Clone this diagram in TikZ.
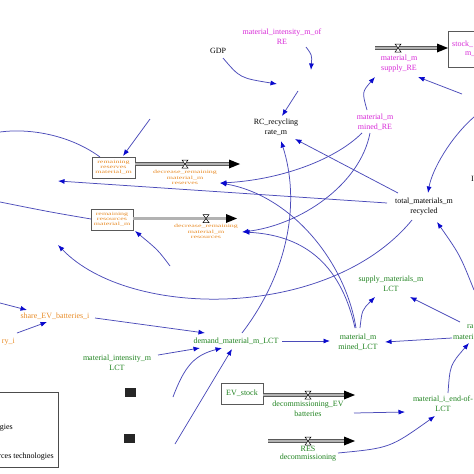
\documentclass[tikz,border=0pt]{standalone}
\usepackage{fontspec}
\setmainfont{Liberation Serif}
\usetikzlibrary{arrows.meta}
\definecolor{linkc}{RGB}{75,75,185}
\definecolor{arrc}{RGB}{10,10,205}
\definecolor{orng}{RGB}{232,140,40}
\definecolor{mgnt}{RGB}{215,40,215}
\definecolor{grn}{RGB}{30,130,30}
\newcommand{\sqt}[1]{\scalebox{1}[0.6]{\fontsize{8}{8.5}\selectfont\begin{tabular}{@{}c@{}}#1\end{tabular}}}
\begin{document}
\begin{tikzpicture}[x=1pt,y=-1pt, font=\fontsize{8}{10}\selectfont,
 lbl/.style={inner sep=0pt, align=center},
 lnk/.style={draw=linkc, line width=0.75pt, -{Latex[length=6.5pt,width=5pt,color=arrc]}},
 plainlnk/.style={draw=linkc, line width=0.75pt},
 stockbox/.style={draw=black!65, line width=0.8pt, fill=white, inner sep=0pt},
 pipe/.style={draw=black!65, double=black!30, double distance=2.8pt, line width=0.55pt},
 vlv/.pic={\draw[fill=white, line width=0.5pt] (-3,-4) -- (3,-4) -- (-3,4) -- (3,4) -- cycle;},
]
\useasboundingbox (0,0) rectangle (474,474);
\clip (0,0) rectangle (474,474);

% ---------------- nodes ----------------
\node[lbl] (gdp) at (218,51) {GDP};
\node[lbl, text=mgnt] (miRE) at (282,37) {material\_intensity\_m\_of\\RE};
\coordinate (hub) at (289,84);
\node[lbl] (rc) at (276,127) {RC\_recycling\\rate\_m};
\node[lbl, text=mgnt] (supRE) at (399,64) {material\_m\\supply\_RE};
\node[lbl, text=mgnt] (minRE) at (375,122) {material\_m\\mined\_RE};
\node[stockbox, anchor=north west, minimum width=45pt, minimum height=36pt] (stockRE) at (448,31) {};
\node[lbl, text=mgnt, anchor=west] (stockta) at (452,44) {stock\_};
\node[lbl, text=mgnt, anchor=west] (stocktb) at (465,54) {m\_};
\node[lbl] (totrec) at (424,207) {total\_materials\_m\\recycled};
\node[lbl, anchor=west] (edgeI) at (471,179) {I};

\node[stockbox, minimum width=43pt, minimum height=21pt] (resv) at (113.5,167.5) {\textcolor{orng}{\sqt{remaining\\reserves\\material\_m}}};
\node[stockbox, minimum width=42pt, minimum height=21pt] (reso) at (112,219.5) {\textcolor{orng}{\sqt{remaining\\resources\\material\_m}}};
\node[lbl, text=orng] (decresv) at (185,178) {\sqt{decrease\_remaining\\material\_m\\reserves}};
\node[lbl, text=orng] (decreso) at (206,232) {\sqt{decrease\_remaining\\material\_m\\resources}};

\node[lbl, text=orng] (shareEV) at (55,316) {share\_EV\_batteries\_i};
\node[lbl, text=orng, anchor=east] (ryi) at (15,342) {ry\_i};
\node[lbl, text=grn] (demand) at (236,341) {demand\_material\_m\_LCT};
\node[lbl, text=grn] (miLCT) at (117,363) {material\_intensity\_m\\LCT};
\node[lbl, text=grn] (minLCT) at (358,342) {material\_m\\mined\_LCT};
\node[lbl, text=grn] (supLCT) at (391,284) {supply\_materials\_m\\LCT};
\node[lbl, text=grn] (endLCT) at (443,404) {material\_i\_end-of-\\LCT};
\node[lbl, text=grn, anchor=west] (rta) at (467,327) {ra};
\node[lbl, text=grn, anchor=west] (rtb) at (453,337) {materi};

\node[stockbox, minimum width=42pt, minimum height=21pt, text=grn] (evstock) at (242,393.5) {EV\_stock};
\node[lbl, text=grn] (decEV) at (308,409) {decommissioning\_EV\\batteries};
\node[lbl, text=grn, font=\fontsize{8}{7.5}\selectfont] (resdec) at (308,453.5) {RES\\decommissioning};

\fill[black!85] (125,388) rectangle (136,397);
\fill[black!85] (124,434) rectangle (135,443);

\node[draw=black!70, line width=0.8pt, anchor=north west, minimum width=63pt, minimum height=75pt, inner sep=0pt] (legend) at (-5,392) {};
\node[lbl, anchor=east] (lega) at (13,428) {gies};
\node[lbl, anchor=east] (legb) at (54,457) {rces technologies};

% ---------------- flows (pipes) ----------------
\draw[pipe] (resv.east |- 0,164) -- (230,164);
\fill (229,159.5) -- (240,164) -- (229,168.5) -- cycle;
\pic at (185,164) {vlv};
\draw[pipe] (reso.east |- 0,218.5) -- (227,218.5);
\fill (226,214) -- (237,218.5) -- (226,223) -- cycle;
\pic at (206,218.5) {vlv};
\draw[pipe] (375,48) -- (438,48);
\fill (437,43.5) -- (448,48) -- (437,52.5) -- cycle;
\pic at (398,48) {vlv};
\draw[pipe] (evstock.east |- 0,395) -- (345,395);
\fill (344,390.5) -- (355,395) -- (344,399.5) -- cycle;
\pic at (308,395) {vlv};
\draw[pipe] (268,441) -- (345,441);
\fill (344,436.5) -- (355,441) -- (344,445.5) -- cycle;
\pic at (308,441) {vlv};

% ---------------- connector end points ----------------
\coordinate (pA) at (0,132);
\coordinate (pB) at (150,119);
\coordinate (pC) at (0,202);
\coordinate (pD) at (170,266);
\coordinate (pL1) at (58,181);
\coordinate (pL2) at (58,245);
\coordinate (pR1) at (474,117);
\coordinate (pR2) at (462,94);
\coordinate (pR3) at (474,290);
\coordinate (pS1) at (0,303);
\coordinate (pS2) at (173,397);
\coordinate (pS3) at (175,444);

% ---------------- links ----------------
\draw[lnk] (223,58) .. controls (240,78) .. (277,84);
\draw[lnk] (306,47) .. controls (312,55) .. (311,70);
\draw[lnk] (298,91) -- (282,116);
\draw[lnk] (367,110) .. controls (362,92) .. (375,77);
\draw[lnk] (pR2) -- (418,77);
\draw[lnk] (pR1) .. controls (450,138) and (432,170) .. (428,193);
\draw[lnk] (398,193) -- (295,139);
\draw[lnk] (242,333) .. controls (290,270) and (300,200) .. (281,141);
\draw[lnk] (362,133) .. controls (335,160) and (280,180) .. (220,183);
\draw[lnk] (370,133) .. controls (360,185) and (300,225) .. (242,232);
\draw[lnk] (356,328) .. controls (345,260) and (290,195) .. (220,183);
\draw[lnk] (355,328) .. controls (340,260) and (300,235) .. (243,232);
\draw[lnk] (412,220) .. controls (330,320) and (130,320) .. (pL2);
\draw[lnk] (387,203) -- (pL1);
\draw[lnk] (pB) -- (123,156);
\draw[plainlnk] (100,157) .. controls (70,135) and (30,128) .. (pA);
\draw[plainlnk] (91,219) .. controls (50,212) .. (pC);
\draw[lnk] (pD) .. controls (158,250) .. (135,231);
\draw[lnk] (pR3) .. controls (460,255) .. (437,222);
\draw[lnk] (pS1) -- (27,310);
\draw[lnk] (17,333) -- (47,322);
\draw[lnk] (95,318) -- (205,333);
\draw[lnk] (158,355) -- (200,348);
\draw[lnk] (pS2) .. controls (185,365) and (195,355) .. (222,348);
\draw[lnk] (pS3) -- (232,349);
\draw[lnk] (282,341) -- (330,341);
\draw[lnk] (452,338) -- (385,342);
\draw[lnk] (460,322) -- (410,297);
\draw[lnk] (360,328) .. controls (362,310) .. (375,297);
\draw[lnk] (354,413) -- (405,412);
\draw[lnk] (338,453) .. controls (390,448) .. (435,416);
\draw[lnk] (448,393) .. controls (450,365) .. (469,343);
\end{tikzpicture}
\end{document}
